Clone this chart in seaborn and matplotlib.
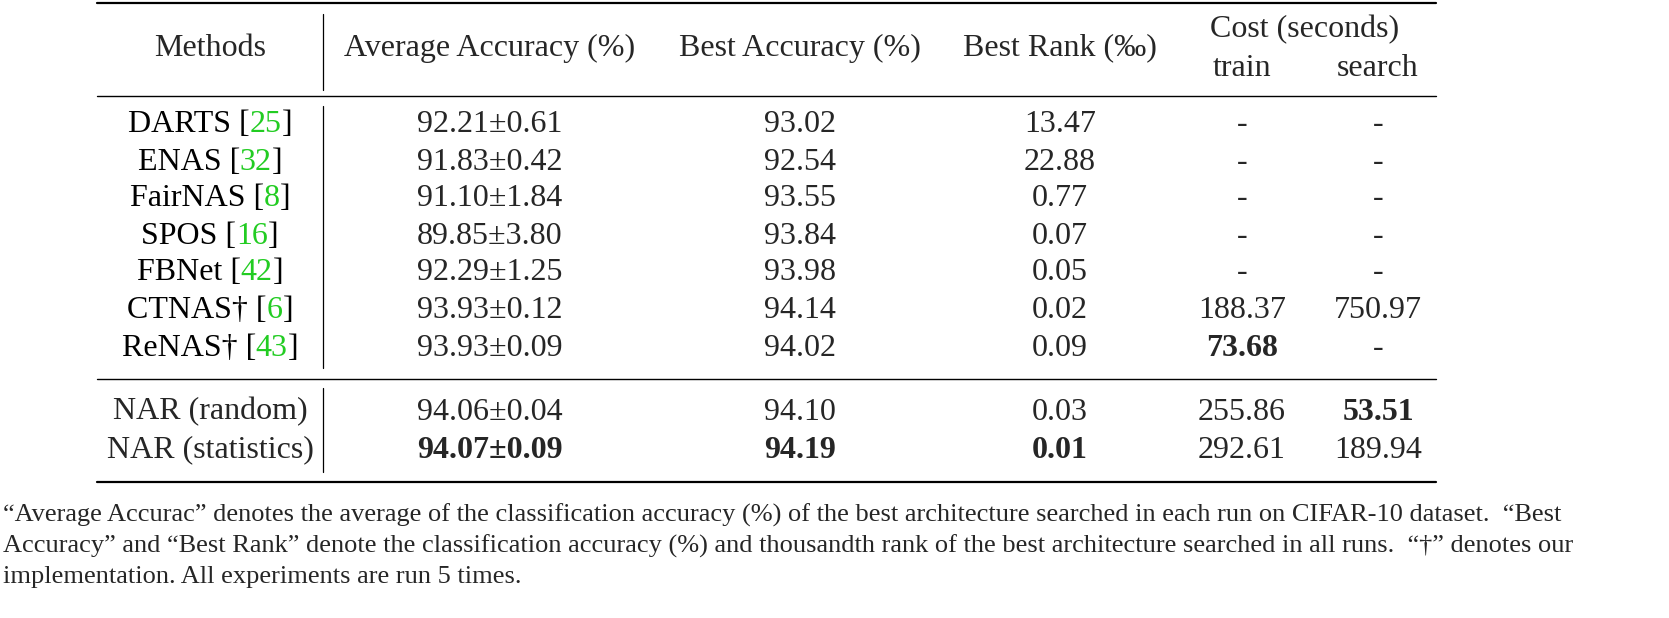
import matplotlib
matplotlib.use("Agg")
import matplotlib.pyplot as plt
import seaborn as sns

sns.set_theme(style="white")
plt.rcParams['font.family'] = ['Liberation Serif', 'DejaVu Serif']

# table data
methods = ["DARTS", "ENAS", "FairNAS", "SPOS", "FBNet", "CTNAS†", "ReNAS†", "NAR (random)", "NAR (statistics)"]
cites = ["25", "32", "8", "16", "42", "6", "43", None, None]
avg_acc = ["92.21±0.61", "91.83±0.42", "91.10±1.84", "89.85±3.80", "92.29±1.25",
           "93.93±0.12", "93.93±0.09", "94.06±0.04", "94.07±0.09"]
best_acc = ["93.02", "92.54", "93.55", "93.84", "93.98", "94.14", "94.02", "94.10", "94.19"]
best_rank = ["13.47", "22.88", "0.77", "0.07", "0.05", "0.02", "0.09", "0.03", "0.01"]
cost_train = ["-", "-", "-", "-", "-", "188.37", "73.68", "255.86", "292.61"]
cost_search = ["-", "-", "-", "-", "-", "750.97", "-", "53.51", "189.94"]
# bold cells: (row, column)
bold_cells = {(8, 1), (8, 2), (8, 3), (6, 4), (7, 5)}

caption = [
    "“Average Accurac” denotes the average of the classification accuracy (%) of the best architecture searched in each run on CIFAR-10 dataset.  “Best",
    "Accuracy” and “Best Rank” denote the classification accuracy (%) and thousandth rank of the best architecture searched in all runs.  “†” denotes our",
    "implementation. All experiments are run 5 times.",
]

W, H = 1669, 618
fig = plt.figure(figsize=(W / 100, H / 100), dpi=100)
ax = fig.add_axes([0, 0, 1, 1])
ax.set_xlim(0, W)
ax.set_ylim(H, 0)
ax.axis("off")
fs = 23
green = "#22cc22"

col_x = [210, 490, 800, 1060, 1242, 1378]
row_y = [125, 162, 199, 236, 273, 311, 348, 412, 450]

# rules
ax.plot([97, 1436], [3, 3], color="black", lw=1.6)
ax.plot([97, 1436], [96, 96], color="black", lw=1.0)
ax.plot([97, 1436], [379, 379], color="black", lw=1.0)
ax.plot([97, 1436], [482, 482], color="black", lw=1.6)
for y0, y1 in [(14, 90), (106, 368), (388, 472)]:
    ax.plot([323, 323], [y0, y1], color="black", lw=0.9)

# header
ax.text(col_x[0], 48, "Methods", ha="center", va="center", fontsize=fs)
ax.text(col_x[1], 48, "Average Accuracy (%)", ha="center", va="center", fontsize=fs)
ax.text(col_x[2], 48, "Best Accuracy (%)", ha="center", va="center", fontsize=fs)
ax.text(col_x[3], 48, "Best Rank (‰)", ha="center", va="center", fontsize=fs)
ax.text(1305, 30, "Cost (seconds)", ha="center", va="center", fontsize=fs)
ax.text(col_x[4], 68, "train", ha="center", va="center", fontsize=fs)
ax.text(col_x[5], 68, "search", ha="center", va="center", fontsize=fs)

fig.canvas.draw()
renderer = fig.canvas.get_renderer()
inv = ax.transData.inverted()


def width_of(s):
    t = ax.text(0, 0, s, fontsize=fs)
    bb = t.get_window_extent(renderer)
    t.remove()
    (x0, _), (x1, _) = inv.transform([[bb.x0, 0], [bb.x1, 0]])
    return x1 - x0


for i, name in enumerate(methods):
    y = row_y[i]
    if cites[i] is None:
        ax.text(col_x[0], y, name, ha="center", va="center", fontsize=fs)
    else:
        parts = [(name + " [", "black"), (cites[i], green), ("]", "black")]
        total = width_of(name + " [" + cites[i] + "]")
        x = col_x[0] - total / 2
        for s, c in parts:
            ax.text(x, y, s, ha="left", va="center", fontsize=fs, color=c)
            x += width_of(s)
    cells = [avg_acc[i], best_acc[i], best_rank[i], cost_train[i], cost_search[i]]
    for j, v in enumerate(cells, start=1):
        ax.text(col_x[j], y, v, ha="center", va="center", fontsize=fs,
                fontweight="bold" if (i, j) in bold_cells else "normal")

for k, line in enumerate(caption):
    ax.text(3, 515 + 31 * k, line, ha="left", va="center", fontsize=19)

fig.savefig("out.png", dpi=100)
